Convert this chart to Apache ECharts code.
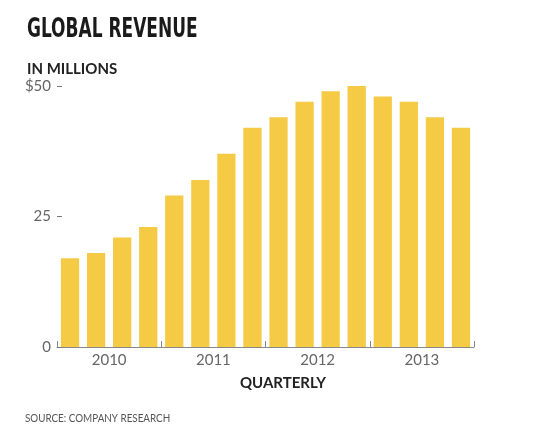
<!DOCTYPE html>
<html>
<head>
<meta charset="utf-8">
<script src="https://cdn.jsdelivr.net/npm/echarts@6/dist/echarts.min.js"></script>
<style>
  html, body { margin: 0; padding: 0; background: #fff; }
  #chart { width: 555px; height: 443px; }
</style>
</head>
<body>
<div id="chart"></div>
<script>
// quarters, 2010 Q1 .. 2013 Q4
const quarters = ['2010 Q1', '2010 Q2', '2010 Q3', '2010 Q4',
  '2011 Q1', '2011 Q2', '2011 Q3', '2011 Q4',
  '2012 Q1', '2012 Q2', '2012 Q3', '2012 Q4',
  '2013 Q1', '2013 Q2', '2013 Q3', '2013 Q4'];
const years = ['2010', '2011', '2012', '2013'];
// revenue in millions of dollars
const revenue = [17, 18, 21, 23, 29, 32, 37, 42, 44, 47, 49, 50, 48, 47, 44, 42];
const yTicks = [0, 25, 50];

let myChart = echarts.init(document.getElementById('chart'));

let option = {
  animation: false,
  backgroundColor: '#fff',
  // condensed headline type: squeeze a bold face horizontally
  graphic: [
    {
      type: 'text',
      x: 27, y: 16,
      scaleX: 0.70,
      style: {
        text: 'GLOBAL REVENUE',
        font: 'bold 27px "DejaVu Sans Condensed", sans-serif',
        fill: '#1a1a1a',
        verticalAlign: 'top'
      }
    },
    {
      type: 'text',
      x: 27, y: 62,
      style: {
        text: 'IN MILLIONS',
        font: 'bold 15px Lato, sans-serif',
        fill: '#222',
        verticalAlign: 'top'
      }
    },
    {
      type: 'text',
      x: 283, y: 376,
      style: {
        text: 'QUARTERLY',
        font: 'bold 15px Lato, sans-serif',
        fill: '#222',
        align: 'center',
        verticalAlign: 'top'
      }
    },
    {
      type: 'text',
      x: 25, y: 412,
      scaleX: 0.82,
      style: {
        text: 'SOURCE: COMPANY RESEARCH',
        font: '12px Lato, sans-serif',
        fill: '#555',
        verticalAlign: 'top'
      }
    }
  ],
  grid: { left: 57, right: 81, top: 86, bottom: 96, containLabel: false },
  xAxis: [
    {
      type: 'category',
      data: quarters,
      boundaryGap: true,
      axisLine: { show: true, lineStyle: { color: '#888', width: 1 } },
      axisTick: { show: true, inside: true, length: 6, interval: 3, lineStyle: { color: '#888' } },
      axisLabel: { show: false }
    },
    {
      type: 'category',
      data: years,
      position: 'bottom',
      boundaryGap: true,
      axisLine: { show: false },
      axisTick: { show: false },
      axisLabel: { show: true, margin: 6, fontFamily: 'Lato, sans-serif', fontSize: 15, color: '#666' }
    }
  ],
  yAxis: {
    type: 'value',
    min: 0,
    max: 50,
    interval: 25,
    axisLine: { show: false },
    splitLine: { show: false },
    axisTick: { show: true, inside: true, length: 5, lineStyle: { color: '#777' } },
    axisLabel: {
      margin: 6,
      fontFamily: 'Lato, sans-serif',
      fontSize: 15,
      color: '#666',
      formatter: function (v) {
        if (yTicks.indexOf(v) < 0) return '';
        return v === 50 ? '$' + v : String(v);
      }
    }
  },
  series: [
    {
      type: 'bar',
      xAxisIndex: 0,
      data: revenue,
      barCategoryGap: '30%',
      itemStyle: { color: '#f5ca45' }
    }
  ]
};
myChart.setOption(option);
</script>
</body>
</html>
